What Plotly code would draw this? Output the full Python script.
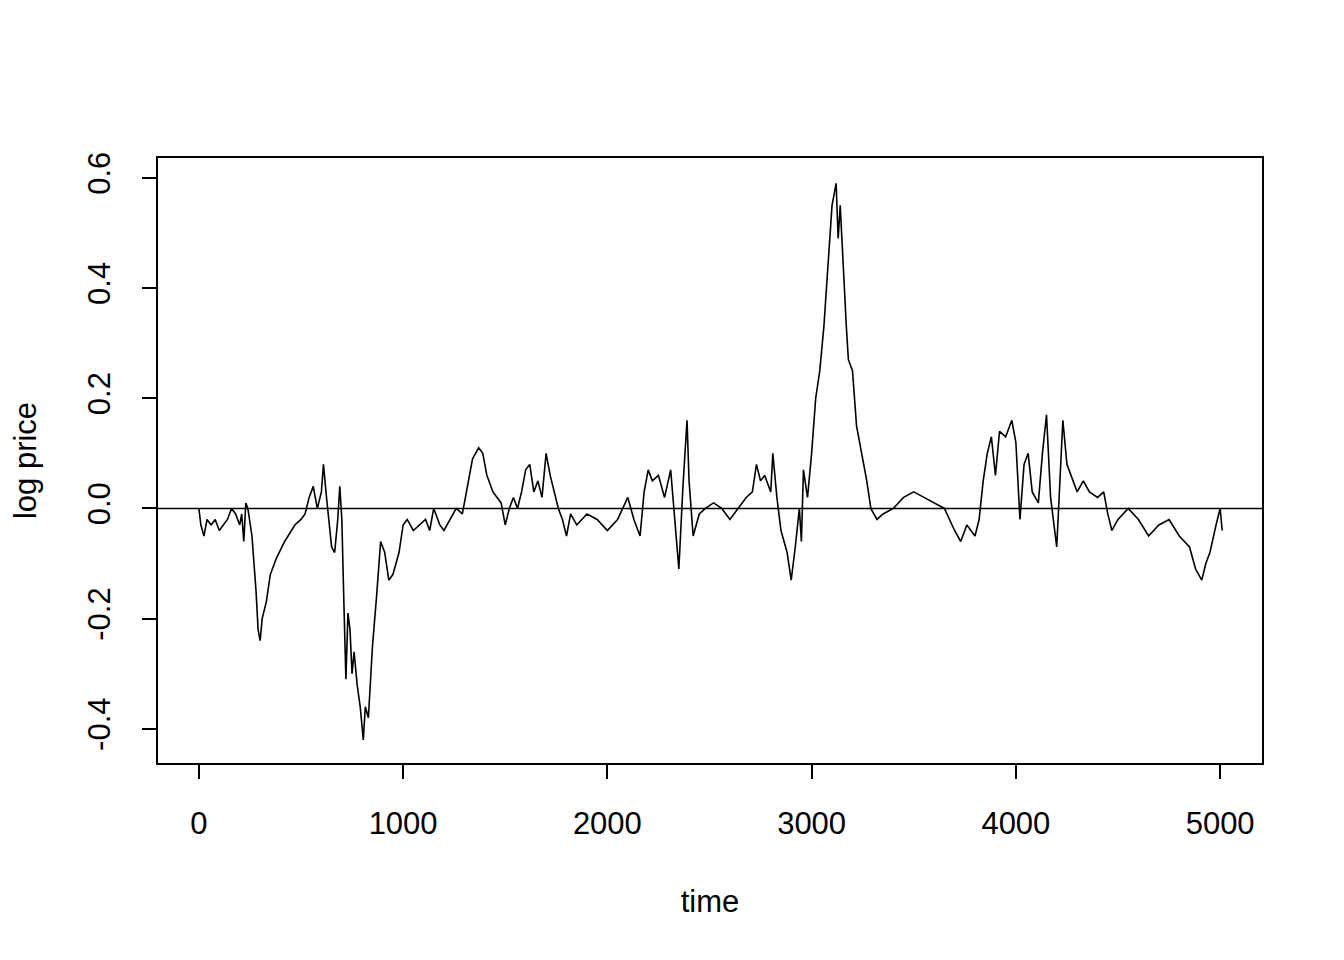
import plotly.graph_objects as go

time = [0,10,25,40,60,80,100,120,140,160,180,200,210,220,230,240,260,280,290,300,310,330,350,380,420,470,500,520,540,560,580,600,610,625,640,650,665,680,690,700,710,720,730,740,750,760,775,790,805,815,830,850,870,880,890,910,930,950,980,1000,1020,1050,1080,1110,1130,1150,1180,1200,1230,1260,1290,1320,1340,1370,1390,1410,1440,1460,1480,1500,1520,1540,1560,1580,1600,1620,1640,1660,1680,1700,1720,1740,1760,1780,1800,1820,1850,1900,1950,2000,2050,2100,2130,2160,2180,2200,2220,2250,2280,2310,2330,2350,2370,2390,2400,2420,2450,2480,2520,2560,2600,2640,2680,2710,2730,2750,2770,2800,2810,2830,2850,2880,2900,2920,2940,2950,2960,2980,3000,3020,3040,3060,3080,3100,3120,3130,3140,3160,3170,3180,3200,3220,3250,3270,3290,3320,3350,3400,3450,3500,3550,3600,3650,3700,3730,3760,3800,3820,3840,3860,3880,3900,3920,3950,3980,4000,4020,4040,4060,4080,4110,4130,4150,4170,4200,4230,4250,4280,4300,4330,4360,4400,4430,4450,4470,4500,4550,4600,4650,4700,4750,4800,4850,4880,4910,4930,4950,4980,5000,5010]
log_price = [0.0,-0.03,-0.05,-0.02,-0.03,-0.02,-0.04,-0.03,-0.02,0.0,-0.01,-0.03,-0.01,-0.06,0.01,0.0,-0.05,-0.15,-0.22,-0.24,-0.2,-0.17,-0.12,-0.09,-0.06,-0.03,-0.02,-0.01,0.02,0.04,0.0,0.03,0.08,0.02,-0.03,-0.07,-0.08,-0.02,0.04,-0.02,-0.17,-0.31,-0.19,-0.22,-0.3,-0.26,-0.32,-0.36,-0.42,-0.36,-0.38,-0.25,-0.16,-0.1,-0.06,-0.08,-0.13,-0.12,-0.08,-0.03,-0.02,-0.04,-0.03,-0.02,-0.04,0.0,-0.03,-0.04,-0.02,0.0,-0.01,0.05,0.09,0.11,0.1,0.06,0.03,0.02,0.01,-0.03,0.0,0.02,0.0,0.03,0.07,0.08,0.03,0.05,0.02,0.1,0.06,0.03,0.0,-0.02,-0.05,-0.01,-0.03,-0.01,-0.02,-0.04,-0.02,0.02,-0.02,-0.05,0.03,0.07,0.05,0.06,0.02,0.07,-0.02,-0.11,0.04,0.16,0.05,-0.05,-0.01,0.0,0.01,0.0,-0.02,0.0,0.02,0.03,0.08,0.05,0.06,0.03,0.1,0.02,-0.04,-0.08,-0.13,-0.07,0.0,-0.06,0.07,0.02,0.1,0.2,0.25,0.33,0.44,0.55,0.59,0.49,0.55,0.39,0.33,0.27,0.25,0.15,0.09,0.05,0.0,-0.02,-0.01,0.0,0.02,0.03,0.02,0.01,0.0,-0.04,-0.06,-0.03,-0.05,-0.02,0.05,0.1,0.13,0.06,0.14,0.13,0.16,0.12,-0.02,0.08,0.1,0.03,0.01,0.1,0.17,0.02,-0.07,0.16,0.08,0.05,0.03,0.05,0.03,0.02,0.03,-0.01,-0.04,-0.02,0.0,-0.02,-0.05,-0.03,-0.02,-0.05,-0.07,-0.11,-0.13,-0.1,-0.08,-0.03,0.0,-0.04]
x_ticks = [0, 1000, 2000, 3000, 4000, 5000]
y_ticks = [-0.4, -0.2, 0.0, 0.2, 0.4, 0.6]

fig = go.Figure()
fig.add_trace(go.Scatter(x=time, y=log_price, mode="lines", line=dict(color="black", width=1.6)))
fig.add_shape(type="line", xref="paper", x0=0, x1=1, yref="y", y0=0, y1=0, line=dict(color="black", width=1.6))
font = dict(family="Liberation Sans, Arial", size=31, color="black")
fig.update_layout(
    width=1344, height=960, plot_bgcolor="white", paper_bgcolor="white",
    margin=dict(l=150, r=90, t=150, b=205), showlegend=False, font=font,
    xaxis=dict(range=[-200, 5205], tickvals=x_ticks, ticktext=[str(v) for v in x_ticks],
               ticks="outside", ticklen=14, tickwidth=1.6, tickcolor="black",
               showline=True, linecolor="black", linewidth=1.6, mirror=True,
               showgrid=False, zeroline=False, ticklabelstandoff=18, automargin=False,
               title=dict(text="time", font=font, standoff=50)),
    yaxis=dict(range=[-0.462, 0.636], tickvals=y_ticks, ticktext=["-0.4","-0.2","0.0","0.2","0.4","0.6"],
               tickangle=-90, ticks="outside", ticklen=14, tickwidth=1.6, tickcolor="black",
               showline=True, linecolor="black", linewidth=1.6, mirror=True,
               showgrid=False, zeroline=False, ticklabelstandoff=20, automargin=False,
               title=dict(text="log price", font=font, standoff=53)),
)
fig.write_html("out.html")
